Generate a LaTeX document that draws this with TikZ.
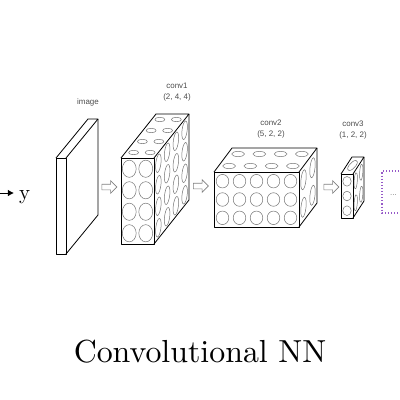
\documentclass[tikz,border=0pt]{standalone}
\usepackage{fontspec}
\newfontfamily\labelfont{Liberation Sans}
\newfontfamily\titlefont[Extension=.otf]{lmroman10-regular}
\usetikzlibrary{arrows.meta,shapes.arrows}
\tikzset{
  edge/.style={line width=0.8bp, line join=round},
  hole/.style={draw=black!55, line width=0.5bp},
  lbl/.style={font=\labelfont\fontsize{8}{9}\selectfont, text=black!70, inner sep=0pt},
  flow/.style={single arrow, draw=black!50, fill=white, line width=0.6bp,
    minimum height=15bp, inner sep=2.5bp, single arrow head extend=3.5bp},
  dotbox/.style={draw={rgb,255:red,150;green,90;blue,200}, dotted, line width=1.1bp},
}
\newcommand\cuboid[7]{% name x0 y0 w h dx dy (image coords)
  \coordinate (#1-a) at (#2,#3);
  \coordinate (#1-b) at (#2+#4,#3);
  \coordinate (#1-c) at (#2+#4,#3+#5);
  \coordinate (#1-d) at (#2,#3+#5);
  \coordinate (#1-e) at (#2+#6,#3+#7);
  \coordinate (#1-f) at (#2+#4+#6,#3+#7);
  \coordinate (#1-g) at (#2+#4+#6,#3+#5+#7);
  \draw[edge] (#1-a) rectangle (#1-c);
  \draw[edge] (#1-a) -- (#1-e) -- (#1-f) -- (#1-b);
  \draw[edge] (#1-f) -- (#1-g) -- (#1-c);
}
\newcommand\holes[9]{% ox oy (image) ux uy vx vy (canvas bp per cell) nc nr ellipse-spec
  \begin{scope}[shift={(#1,#2)}, x={(#3bp,#4bp)}, y={(#5bp,#6bp)}]
    \foreach \i in {1,...,#7}{\foreach \j in {1,...,#8}{
      \draw[hole] (\i-0.5,\j-0.5) ellipse[#9];}}
  \end{scope}}
\begin{document}
\begin{tikzpicture}[x=1bp,y=-1bp]
\useasboundingbox (0,0) rectangle (400,400);

% output arrow on the left
\coordinate (ystart) at (-10,193);
\node[anchor=base west, inner sep=0pt, font=\titlefont\fontsize{21}{24}\selectfont] (ylab) at (19,199) {y};
\draw[line width=1bp, -{Latex[length=6bp,width=6.5bp]}, shorten >=5bp] (ystart) -- (ystart -| ylab.west);

% image slab
\cuboid{img}{56}{158}{10}{96}{32}{-39}
\node[lbl] (limg) at (88,102) {image};

% conv1
\cuboid{c1}{121}{158}{33}{86}{35}{-44}
\holes{121}{158}{16.5}{0}{0}{-21.5}{2}{4}{x radius=0.42,y radius=0.4}
\holes{121}{158}{16.5}{0}{8.75}{11}{2}{4}{x radius=5bp,y radius=2.2bp}
\holes{154}{158}{8.75}{11}{0}{-21.5}{4}{4}{x radius=0.32,y radius=0.4}
\node[lbl] (lc1a) at (177,86) {conv1};
\node[lbl] (lc1b) at (177,97) {(2, 4, 4)};

% conv2
\cuboid{c2}{214}{172}{85}{55}{18}{-24}
\holes{214}{172}{17}{0}{0}{-18.33}{5}{3}{x radius=0.37,y radius=0.37}
\holes{214}{172}{21.25}{0}{9}{12}{4}{2}{x radius=6.5bp,y radius=2.6bp}
\holes{299}{172}{9}{12}{0}{-27.5}{2}{2}{x radius=0.3,y radius=0.34}
\node[lbl] (lc2a) at (271,123) {conv2};
\node[lbl] (lc2b) at (271,134) {(5, 2, 2)};

% conv3
\cuboid{c3}{341}{174}{12}{44}{11}{-17}
\holes{341}{174}{12}{0}{0}{-14.67}{1}{3}{x radius=0.35,y radius=0.33}
\holes{341}{174}{12}{0}{11}{17}{1}{1}{x radius=0.3,y radius=0.3}
\holes{353}{174}{5.5}{8.5}{0}{-22}{2}{2}{x radius=0.3,y radius=0.36}
\node[lbl] (lc3a) at (353,124) {conv3};
\node[lbl] (lc3b) at (353,135) {(1, 2, 2)};

% flow arrows
\node[flow] (f1) at (108,187) {};
\node[flow] (f2) at (199.5,186) {};
\node[flow] (f3) at (330,187) {};

% dotted box on the right
\draw[dotbox] (430,171) -- (382,171) -- (382,213) -- (430,213);
\node[lbl, anchor=west, text=black!50] (dots) at (390,195) {...};

% title
\node[anchor=base, inner sep=0pt, font=\titlefont\fontsize{32}{38}\selectfont] (title) at (200,362) {Convolutional NN};
\end{tikzpicture}
\end{document}
